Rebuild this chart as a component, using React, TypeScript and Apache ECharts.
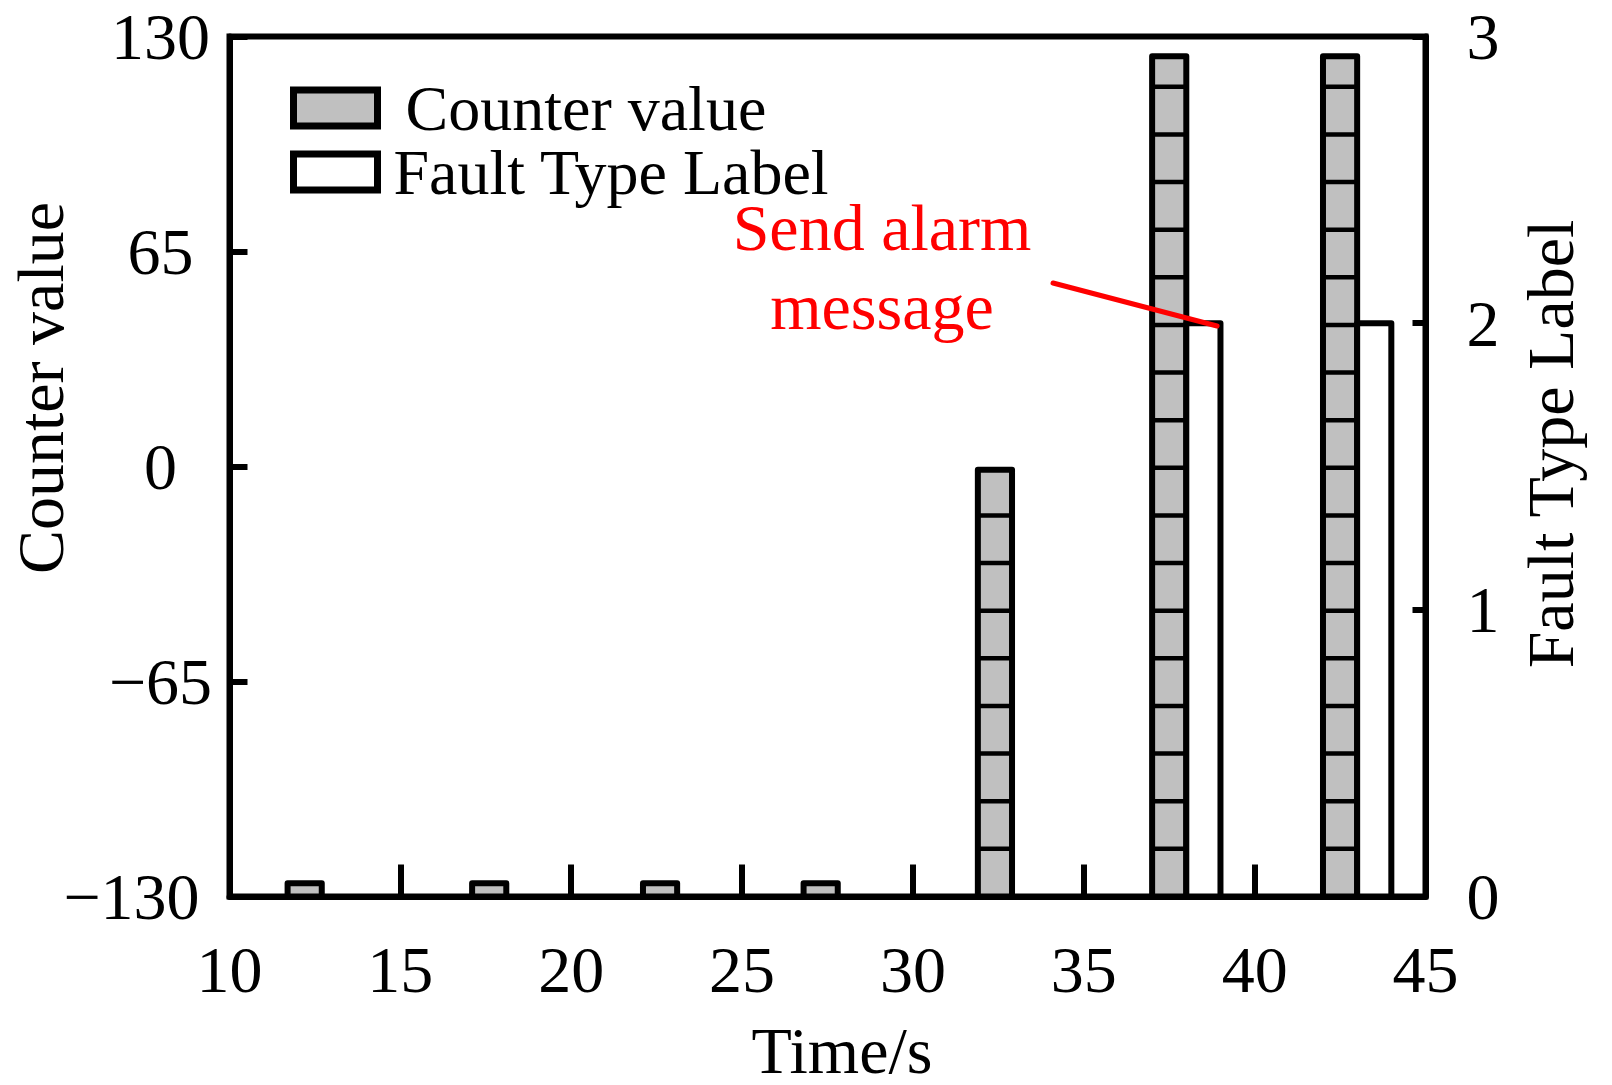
import React, { useEffect, useRef } from 'react';
import * as echarts from 'echarts';

// ---- data ----
const counterTimes = [12.2, 17.6, 22.6, 27.3, 32.4, 37.5, 42.5];
const counterValues = [-126, -126, -126, -126, -1, 124, 124];
const faultTimes = [38.5, 43.5];
const faultLabels = [2, 2];
const alarmTimes = [34.1, 38.9];
const alarmLabels = [2.14, 1.99];

const xRange = [10, 45];
const xStep = 5;
const leftRange = [-130, 130];
const leftStep = 65;
const rightRange = [0, 3];
const rightStep = 1;

const seriesNames = ['Counter value', 'Fault Type Label'];
const axisNames = { x: 'Time/s', left: 'Counter value', right: 'Fault Type Label' };
const annotationLines = ['Send alarm', 'message'];

// ---- styling ----
const FONT = '"Liberation Serif", "Times New Roman", Times, serif';
const BAR_W = 1.0; // bar width in time units
const SEG = 14.4; // block height (counter units)

export default function App() {
  const ref = useRef<HTMLDivElement>(null);

  useEffect(() => {
    if (!ref.current) return;
    const chart = echarts.init(ref.current, undefined, { renderer: 'svg' });

    const counterData = counterTimes.map((t, i) => [t, counterValues[i]]);
    const faultData = faultTimes.map((t, i) => [t, faultLabels[i]]);
    const alarmData = alarmTimes.map((t, i) => [t, alarmLabels[i]]);

    const renderCounter = (params: any, api: any) => {
      const t = api.value(0);
      const v = api.value(1);
      const top = api.coord([t, v]);
      const base = api.coord([t, leftRange[0]]);
      const w = api.size([BAR_W, 0])[0];
      const x0 = top[0] - w / 2;
      const children: any[] = [
        {
          type: 'rect',
          shape: { x: x0, y: top[1], width: w, height: base[1] - top[1] },
          style: { fill: '#c0c0c0', stroke: '#000', lineWidth: 6, lineJoin: 'round' },
        },
      ];
      for (let k = leftRange[0] + SEG; k < v - 1; k += SEG) {
        const p = api.coord([t, k]);
        children.push({
          type: 'line',
          shape: { x1: x0, y1: p[1], x2: x0 + w, y2: p[1] },
          style: { stroke: '#000', lineWidth: 4.5 },
        });
      }
      return { type: 'group', children };
    };

    const renderFault = (params: any, api: any) => {
      const t = api.value(0);
      const v = api.value(1);
      const top = api.coord([t, v]);
      const base = api.coord([t, rightRange[0]]);
      const w = api.size([BAR_W, 0])[0];
      return {
        type: 'rect',
        shape: { x: top[0] - w / 2, y: top[1], width: w, height: base[1] - top[1] },
        style: { fill: '#ffffff', stroke: '#000', lineWidth: 6, lineJoin: 'round' },
      };
    };

    const leftLabel = (v: number) => {
      const s = String(v).replace('-', '\u2212');
      return v === leftRange[0] ? `{wide|${s}}` : s;
    };

    chart.setOption({
      animation: false,
      backgroundColor: '#ffffff',
      grid: {
        left: 229.5,
        right: 186.5,
        top: 36.5,
        bottom: 188.5,
        show: true,
        borderColor: '#000',
        borderWidth: 6,
        backgroundColor: 'transparent',
      },
      legend: {
        show: true,
        orient: 'vertical',
        left: 285,
        top: 71,
        itemWidth: 84,
        itemHeight: 36,
        itemGap: 0,
        selectedMode: false,
        textStyle: { fontSize: 64, fontFamily: FONT, color: '#000' },
        data: [
          {
            name: seriesNames[0],
            icon: 'rect',
            itemStyle: { color: '#c0c0c0', borderColor: '#000', borderWidth: 7 },
            textStyle: { padding: [0, 0, 0, 23] },
          },
          {
            name: seriesNames[1],
            icon: 'rect',
            itemStyle: { color: '#ffffff', borderColor: '#000', borderWidth: 7 },
            textStyle: { padding: [0, 0, 0, 11] },
          },
        ],
      },
      xAxis: {
        type: 'value',
        min: xRange[0],
        max: xRange[1],
        interval: xStep,
        axisLine: { show: true, onZero: false, lineStyle: { color: '#000', width: 6 } },
        axisTick: { show: true, inside: true, length: 32, lineStyle: { color: '#000', width: 6 } },
        axisLabel: { fontSize: 66, fontFamily: FONT, color: '#000', margin: 40 },
        splitLine: { show: false },
      },
      yAxis: [
        {
          type: 'value',
          position: 'left',
          min: leftRange[0],
          max: leftRange[1],
          interval: leftStep,
          axisLine: { show: true, onZero: false, lineStyle: { color: '#000', width: 6 } },
          axisTick: { show: true, inside: true, length: 18, lineStyle: { color: '#000', width: 6 } },
          axisLabel: {
            fontSize: 66,
            fontFamily: FONT,
            color: '#000',
            margin: 69,
            align: 'center',
            formatter: leftLabel,
            rich: {
              wide: { fontSize: 66, fontFamily: FONT, color: '#000', padding: [0, 58, 0, 0] },
            },
          },
          splitLine: { show: false },
        },
        {
          type: 'value',
          position: 'right',
          min: rightRange[0],
          max: rightRange[1],
          interval: rightStep,
          axisLine: { show: true, onZero: false, lineStyle: { color: '#000', width: 6 } },
          axisTick: { show: true, inside: true, length: 13, lineStyle: { color: '#000', width: 6 } },
          axisLabel: { fontSize: 66, fontFamily: FONT, color: '#000', margin: 41 },
          splitLine: { show: false },
        },
      ],
      series: [
        {
          name: seriesNames[0],
          type: 'custom',
          xAxisIndex: 0,
          yAxisIndex: 0,
          itemStyle: { color: '#c0c0c0', borderColor: '#000', borderWidth: 7 },
          encode: { x: 0, y: 1 },
          data: counterData,
          renderItem: renderCounter,
          z: 3,
        },
        {
          name: seriesNames[1],
          type: 'custom',
          xAxisIndex: 0,
          yAxisIndex: 1,
          itemStyle: { color: '#ffffff', borderColor: '#000', borderWidth: 7 },
          encode: { x: 0, y: 1 },
          data: faultData,
          renderItem: renderFault,
          z: 3,
        },
        {
          name: 'alarm pointer',
          type: 'line',
          xAxisIndex: 0,
          yAxisIndex: 1,
          data: alarmData,
          symbol: 'none',
          silent: true,
          lineStyle: { color: '#ff0000', width: 5, cap: 'round' },
          z: 6,
        },
      ],
      graphic: [
        {
          type: 'text',
          x: 842,
          y: 1050,
          style: {
            text: axisNames.x,
            fontSize: 66,
            fontFamily: FONT,
            fill: '#000',
            align: 'center',
            verticalAlign: 'middle',
          },
        },
        {
          type: 'text',
          x: 40,
          y: 388,
          rotation: Math.PI / 2,
          style: {
            text: axisNames.left,
            fontSize: 66,
            fontFamily: FONT,
            fill: '#000',
            align: 'center',
            verticalAlign: 'middle',
          },
        },
        {
          type: 'text',
          x: 1550,
          y: 444,
          rotation: Math.PI / 2,
          style: {
            text: axisNames.right,
            fontSize: 66,
            fontFamily: FONT,
            fill: '#000',
            align: 'center',
            verticalAlign: 'middle',
          },
        },
        {
          type: 'text',
          x: 882,
          y: 227,
          z: 10,
          style: {
            text: annotationLines[0],
            fontSize: 66,
            lineHeight: 44,
            fontFamily: FONT,
            fill: '#ff0000',
            align: 'center',
            verticalAlign: 'middle',
          },
        },
        {
          type: 'text',
          x: 882,
          y: 306,
          z: 10,
          style: {
            text: annotationLines[1],
            fontSize: 66,
            lineHeight: 44,
            fontFamily: FONT,
            fill: '#ff0000',
            align: 'center',
            verticalAlign: 'middle',
          },
        },
      ],
    });

    return () => {
      chart.dispose();
    };
  }, []);

  return (
    <div
      ref={ref}
      style={{ position: 'absolute', left: 0, top: 0, width: 1612, height: 1085, background: '#fff' }}
    />
  );
}
